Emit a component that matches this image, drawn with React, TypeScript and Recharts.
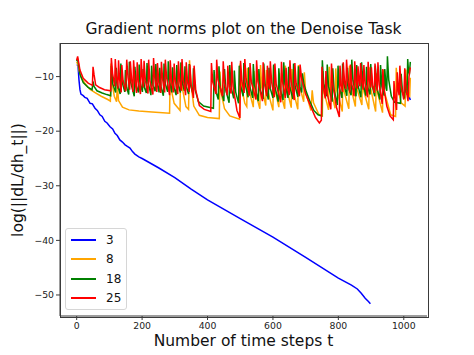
import { Line, LineChart, XAxis, YAxis } from "recharts";

// [time step, log gradient norm]
const hidden3: [number, number][] = [
  [0, -7.9], [4, -7.9], [7, -10.6], [10, -12.4], [13, -13.2], [20, -13.5], [25, -13.8],
  [32, -14.0], [41, -14.9], [48, -15.0], [56, -15.8], [63, -16.2], [71, -17.0], [78, -17.3],
  [86, -18.2], [93, -18.5], [102, -19.2], [110, -19.6], [117, -20.4], [124, -20.8],
  [132, -21.6], [140, -22.0], [148, -22.5], [155, -22.8], [163, -23.1], [170, -23.7],
  [178, -24.2], [190, -24.7], [200, -25.0], [250, -26.7], [300, -28.5], [350, -30.6],
  [400, -32.6], [500, -36.0], [600, -39.4], [700, -43.1], [800, -46.9], [840, -48.2],
  [858, -48.9], [870, -49.7], [882, -50.6], [892, -51.2], [898, -51.6]
];

// short blue stub visible at the right end of the plot
const hidden3Tail: [number, number][] = [[1013, -13.2], [1016, -13.6], [1020, -14.3]];

const hidden8: [number, number][] = [
  [0, -7.3], [4, -7.8], [8, -9.1], [15, -10.3], [25, -11.2], [40, -12.3], [55, -12.9],
  [75, -13.6], [95, -14.2], [103, -14.5],
  [105, -7.6], [109, -11.5], [115, -13.6], [122, -14.6], [124, -11.5], [128, -14.4],
  [140, -15.6], [160, -16.1], [190, -16.3], [230, -16.5], [284, -16.7],
  [286, -9.1], [290, -12.6], [298, -14.9], [316, -16.2], [318, -7.5], [322, -11.8],
  [334, -15.5], [342, -16.0], [345, -7.0], [349, -11.2], [358, -15.4], [375, -17.1],
  [400, -17.5], [436, -17.7],
  [438, -9.1], [442, -13.1], [452, -15.9], [468, -17.2], [498, -17.8],
  [500, -7.6], [504, -11.9], [514, -14.9], [520, -15.5], [522, -8.4], [526, -12.3],
  [540, -15.6], [542, -9.0], [546, -12.7], [560, -15.9], [562, -7.9], [566, -12.0],
  [578, -15.3], [580, -8.8], [584, -12.6], [600, -16.2], [602, -8.1], [606, -12.3],
  [618, -15.6], [620, -9.3], [624, -13.0], [636, -15.9], [638, -8.0], [642, -12.1],
  [656, -15.7], [658, -8.6], [662, -12.5], [676, -16.0], [678, -7.9], [682, -11.8],
  [694, -14.6], [696, -9.2], [700, -12.8], [716, -16.2], [720, -12.5], [724, -14.8],
  [740, -16.9], [751, -17.2],
  [753, -9.0], [757, -13.0], [770, -16.1], [772, -8.2], [776, -12.3], [790, -15.8],
  [792, -8.5], [796, -12.6], [812, -16.4], [814, -9.2], [818, -12.8], [832, -15.9],
  [834, -8.0], [838, -12.0], [852, -15.5], [854, -8.7], [858, -12.5], [872, -15.2],
  [874, -9.0], [878, -12.7], [893, -16.0], [895, -8.3], [899, -12.2], [914, -16.4],
  [916, -9.4], [920, -13.0], [935, -16.6], [937, -8.8], [941, -12.8], [960, -17.0],
  [975, -17.3], [977, -8.4], [981, -12.0], [992, -14.8], [1004, -15.4], [1006, -8.7],
  [1010, -12.0], [1018, -13.8], [1020, -10.2]
];

const hidden18: [number, number][] = [
  [0, -7.2], [3, -6.7], [6, -7.9], [10, -9.6], [20, -11.1], [35, -12.0], [47, -12.4],
  [50, -10.9], [53, -11.8], [62, -12.6], [78, -13.0], [92, -13.3], [104, -13.5],
  [106, -8.0], [110, -11.3], [119, -12.9], [121, -8.4], [125, -11.6], [133, -13.2],
  [135, -7.6], [139, -11.0], [147, -12.8], [149, -8.8], [153, -12.0], [159, -13.3],
  [161, -7.3], [165, -11.0], [176, -13.6], [178, -8.2], [182, -11.7], [189, -12.9],
  [191, -7.8], [195, -11.4], [201, -12.8], [203, -8.6], [207, -12.0], [213, -13.0],
  [215, -7.5], [219, -11.2], [227, -13.4], [229, -8.0], [233, -11.6], [240, -12.7],
  [242, -7.7], [246, -11.3], [252, -12.9], [254, -8.4], [258, -12.0], [265, -13.5],
  [267, -7.6], [271, -11.3], [278, -12.8], [280, -7.2], [284, -11.0], [291, -12.9],
  [293, -8.3], [297, -11.9], [304, -13.4], [306, -7.9], [310, -11.5], [317, -12.9],
  [319, -7.4], [323, -11.1], [329, -12.6], [331, -8.1], [335, -11.8], [342, -13.2],
  [344, -7.7], [348, -11.5], [355, -13.0], [357, -8.5], [362, -12.4], [372, -14.6],
  [388, -15.4], [418, -15.8],
  [420, -8.8], [424, -12.4], [433, -14.2], [435, -8.1], [439, -12.0], [450, -14.5],
  [452, -8.6], [456, -12.5], [466, -14.8], [468, -7.9], [472, -11.9], [480, -14.0],
  [482, -8.9], [486, -12.8], [495, -14.9], [497, -8.0], [501, -11.7], [509, -13.6],
  [511, -7.5], [515, -11.3], [524, -13.8], [526, -8.3], [530, -12.0], [538, -13.9],
  [540, -7.7], [544, -11.6], [555, -14.5], [557, -8.6], [561, -12.4], [570, -14.1],
  [572, -7.6], [576, -11.5], [586, -14.2], [588, -8.4], [592, -12.2], [600, -13.9],
  [602, -7.8], [606, -11.8], [616, -14.6], [618, -8.5], [622, -12.3], [631, -14.3],
  [633, -7.4], [637, -11.4], [646, -13.9], [648, -8.2], [652, -12.0], [661, -14.1],
  [663, -7.6], [667, -11.5], [676, -13.7], [678, -8.1], [682, -11.8], [688, -12.9],
  [690, -9.4], [695, -11.5], [702, -12.8], [712, -14.4], [725, -16.2], [738, -17.0],
  [749, -17.2],
  [751, -7.0], [755, -11.2], [764, -13.6], [766, -7.8], [770, -11.8], [781, -14.6],
  [783, -8.5], [787, -12.5], [797, -15.2], [799, -8.0], [803, -12.0], [811, -13.9],
  [813, -7.6], [817, -11.4], [826, -13.5], [828, -8.4], [832, -12.2], [839, -13.4],
  [841, -6.9], [845, -10.8], [854, -13.6], [856, -7.9], [860, -11.6], [869, -13.8],
  [871, -7.4], [875, -11.2], [884, -13.5], [886, -8.2], [890, -12.0], [897, -13.3],
  [899, -7.7], [903, -11.5], [911, -13.6], [913, -8.0], [917, -11.9], [927, -14.2],
  [929, -7.9], [933, -11.8], [940, -13.5], [942, -8.6], [946, -12.1], [948, -12.6],
  [950, -6.3], [954, -10.6], [962, -13.6], [972, -14.7], [990, -14.9],
  [992, -9.5], [996, -12.8], [1002, -14.0], [1004, -10.2], [1008, -12.9], [1010, -13.3],
  [1012, -6.8], [1014, -8.6], [1017, -9.6], [1020, -7.3]
];

const hidden25: [number, number][] = [
  [0, -7.0], [3, -6.3], [6, -7.4], [10, -8.8], [20, -10.3], [35, -11.2], [48, -11.6],
  [50, -8.2], [53, -9.6], [58, -11.5], [70, -12.0], [85, -12.4], [104, -12.6],
  [106, -6.6], [110, -9.5], [116, -11.8], [118, -6.8], [121, -9.8], [126, -12.2],
  [128, -7.0], [131, -10.4], [136, -12.9], [138, -7.9], [142, -10.8], [150, -12.7],
  [153, -6.9], [157, -10.2], [162, -12.4], [164, -7.2], [168, -10.5], [172, -12.8],
  [174, -7.0], [178, -10.6], [183, -13.0], [185, -7.4], [189, -11.0], [195, -13.2],
  [197, -6.8], [201, -10.3], [204, -12.0], [206, -7.1], [210, -10.7], [218, -13.1],
  [220, -6.9], [224, -10.9], [233, -13.3], [235, -6.6], [239, -10.4], [245, -12.8],
  [247, -7.5], [251, -11.0], [257, -13.0], [259, -7.3], [263, -10.6], [269, -12.9],
  [271, -6.9], [275, -10.2], [284, -13.4], [286, -7.0], [290, -10.8], [296, -12.9],
  [298, -7.6], [302, -10.9], [309, -13.2], [311, -7.2], [315, -10.8], [320, -12.6],
  [322, -6.8], [326, -10.5], [333, -13.4], [335, -7.4], [339, -11.0], [344, -12.8],
  [346, -7.8], [350, -11.5], [357, -13.9], [359, -8.0], [364, -12.5], [375, -15.3],
  [390, -16.0], [410, -16.4],
  [412, -7.5], [416, -11.0], [426, -13.2], [428, -6.9], [432, -10.6], [446, -13.6],
  [448, -7.2], [452, -11.2], [460, -13.4], [462, -8.0], [466, -11.8], [472, -13.1],
  [474, -7.3], [478, -11.8], [490, -16.2], [499, -17.6],
  [501, -7.1], [505, -10.8], [512, -13.0], [514, -6.8], [518, -10.4], [528, -13.5],
  [530, -7.5], [534, -11.0], [548, -14.2], [550, -7.0], [554, -10.9], [568, -14.5],
  [570, -7.4], [574, -11.2], [581, -13.6], [583, -8.0], [587, -11.5], [590, -12.3],
  [592, -7.2], [596, -11.0], [604, -13.8], [606, -7.6], [610, -11.4], [624, -14.7],
  [626, -7.3], [630, -11.2], [638, -13.9], [640, -8.4], [644, -11.9], [650, -13.4],
  [652, -7.0], [656, -10.9], [665, -14.3], [667, -7.5], [671, -11.3], [681, -13.6],
  [683, -7.8], [688, -10.5], [700, -13.2], [715, -15.4], [730, -17.5], [742, -18.5],
  [748, -18.0],
  [750, -8.2], [754, -12.0], [760, -14.0], [762, -9.0], [766, -13.2], [777, -16.0],
  [779, -7.6], [783, -11.4], [795, -15.8], [803, -17.4],
  [805, -8.0], [809, -11.7], [813, -12.8], [815, -7.4], [819, -11.0], [823, -12.3],
  [825, -6.9], [829, -10.6], [835, -12.9], [837, -7.8], [841, -11.3], [848, -13.6],
  [850, -7.2], [854, -10.9], [858, -12.2], [860, -8.1], [864, -11.2], [866, -11.8],
  [868, -7.5], [872, -11.0], [876, -12.4], [878, -7.9], [882, -11.3], [889, -13.8],
  [891, -7.3], [895, -10.9], [899, -12.0], [901, -8.3], [905, -11.6], [910, -13.0],
  [912, -7.6], [916, -11.2], [919, -12.6], [921, -7.4], [925, -11.5], [934, -15.0],
  [936, -8.6], [940, -12.4], [948, -15.4], [958, -17.2], [968, -17.9],
  [970, -10.8], [974, -14.0], [978, -16.1], [980, -9.2], [984, -12.8], [986, -13.4],
  [988, -8.0], [992, -11.6], [1000, -14.2], [1003, -8.5], [1007, -12.3], [1013, -14.5],
  [1016, -10.0], [1020, -8.3]
];

const seriesNames = ["3", "8", "18", "25"];
const seriesColors = ["#0000ff", "#ffa500", "#008000", "#ff0000"];

const xTicks = [0, 200, 400, 600, 800, 1000];
const yTicks = [-50, -40, -30, -20, -10];

const toRows = (pts: [number, number][]) => pts.map(([t, v]) => ({ t, v }));

const fmt = (v: number) => (v < 0 ? "\u2212" + Math.abs(v) : String(v));

const FONT = "'DejaVu Sans', sans-serif";
const tickStyle = { fontSize: 9.3, fill: "#222", fontFamily: FONT };
const spine = "#3a3a3a";

// plot box in page pixels
const PLOT = { left: 60, top: 43, right: 427, bottom: 316 };

export default function App() {
  return (
    <div style={{ position: "absolute", left: 0, top: 0, width: 474, height: 355, background: "#fff" }}>
      <LineChart
        width={474}
        height={355}
        margin={{ top: PLOT.top, right: 474 - PLOT.right, bottom: 0, left: 0 }}
      >
        <XAxis
          dataKey="t"
          type="number"
          domain={[-51, 1071]}
          ticks={xTicks}
          allowDataOverflow
          height={355 - PLOT.bottom}
          tick={tickStyle}
          tickSize={4}
          tickLine={{ stroke: spine }}
          axisLine={{ stroke: spine }}
        />
        <YAxis
          type="number"
          domain={[-53.85, -3.85]}
          ticks={yTicks}
          allowDataOverflow
          width={PLOT.left}
          tick={tickStyle}
          tickSize={4}
          tickFormatter={fmt}
          tickLine={{ stroke: spine }}
          axisLine={{ stroke: spine }}
        />
        <Line data={toRows(hidden3)} dataKey="v" name="3" stroke={seriesColors[0]} strokeWidth={1.5} dot={false} isAnimationActive={false} />
        <Line data={toRows(hidden3Tail)} dataKey="v" name="3 tail" legendType="none" stroke={seriesColors[0]} strokeWidth={1.5} dot={false} isAnimationActive={false} />
        <Line data={toRows(hidden8)} dataKey="v" name="8" stroke={seriesColors[1]} strokeWidth={1.5} dot={false} isAnimationActive={false} />
        <Line data={toRows(hidden18)} dataKey="v" name="18" stroke={seriesColors[2]} strokeWidth={1.5} dot={false} isAnimationActive={false} />
        <Line data={toRows(hidden25)} dataKey="v" name="25" stroke={seriesColors[3]} strokeWidth={1.5} dot={false} isAnimationActive={false} />
      </LineChart>

      {/* full box frame like matplotlib spines */}
      <div
        style={{
          position: "absolute",
          left: PLOT.left - 0.5,
          top: PLOT.top - 0.5,
          width: PLOT.right - PLOT.left,
          height: PLOT.bottom - PLOT.top,
          border: `1px solid ${spine}`,
          pointerEvents: "none"
        }}
      />

      {/* legend */}
      <div
        style={{
          position: "absolute",
          left: 65,
          top: 228,
          width: 62,
          boxSizing: "border-box",
          background: "rgba(255,255,255,0.8)",
          border: "1px solid #d6d6d6",
          borderRadius: 3,
          padding: "1px 0 1px 5px",
          fontFamily: FONT,
          fontSize: 12,
          color: "#111"
        }}
      >
        {seriesNames.map((n, i) => (
          <div key={n} style={{ display: "flex", alignItems: "center", height: 19.5 }}>
            <div style={{ width: 25, height: 2, background: seriesColors[i], marginRight: 10, flex: "none" }} />
            <span>{n}</span>
          </div>
        ))}
      </div>

      <div style={{ position: "absolute", left: 0, width: 487, top: 20, textAlign: "center", fontFamily: FONT, fontSize: 15.5, color: "#111" }}>
        Gradient norms plot on the Denoise Task
      </div>
      <div style={{ position: "absolute", left: 0, width: 487, top: 332, textAlign: "center", fontFamily: FONT, fontSize: 15.5, color: "#111" }}>
        Number of time steps t
      </div>
      <div
        style={{
          position: "absolute",
          left: 18,
          top: 180,
          transform: "translate(-50%, -50%) rotate(-90deg)",
          whiteSpace: "nowrap",
          fontFamily: FONT,
          fontSize: 15.5,
          color: "#111"
        }}
      >
        log(||dL/dh_t||)
      </div>
    </div>
  );
}
